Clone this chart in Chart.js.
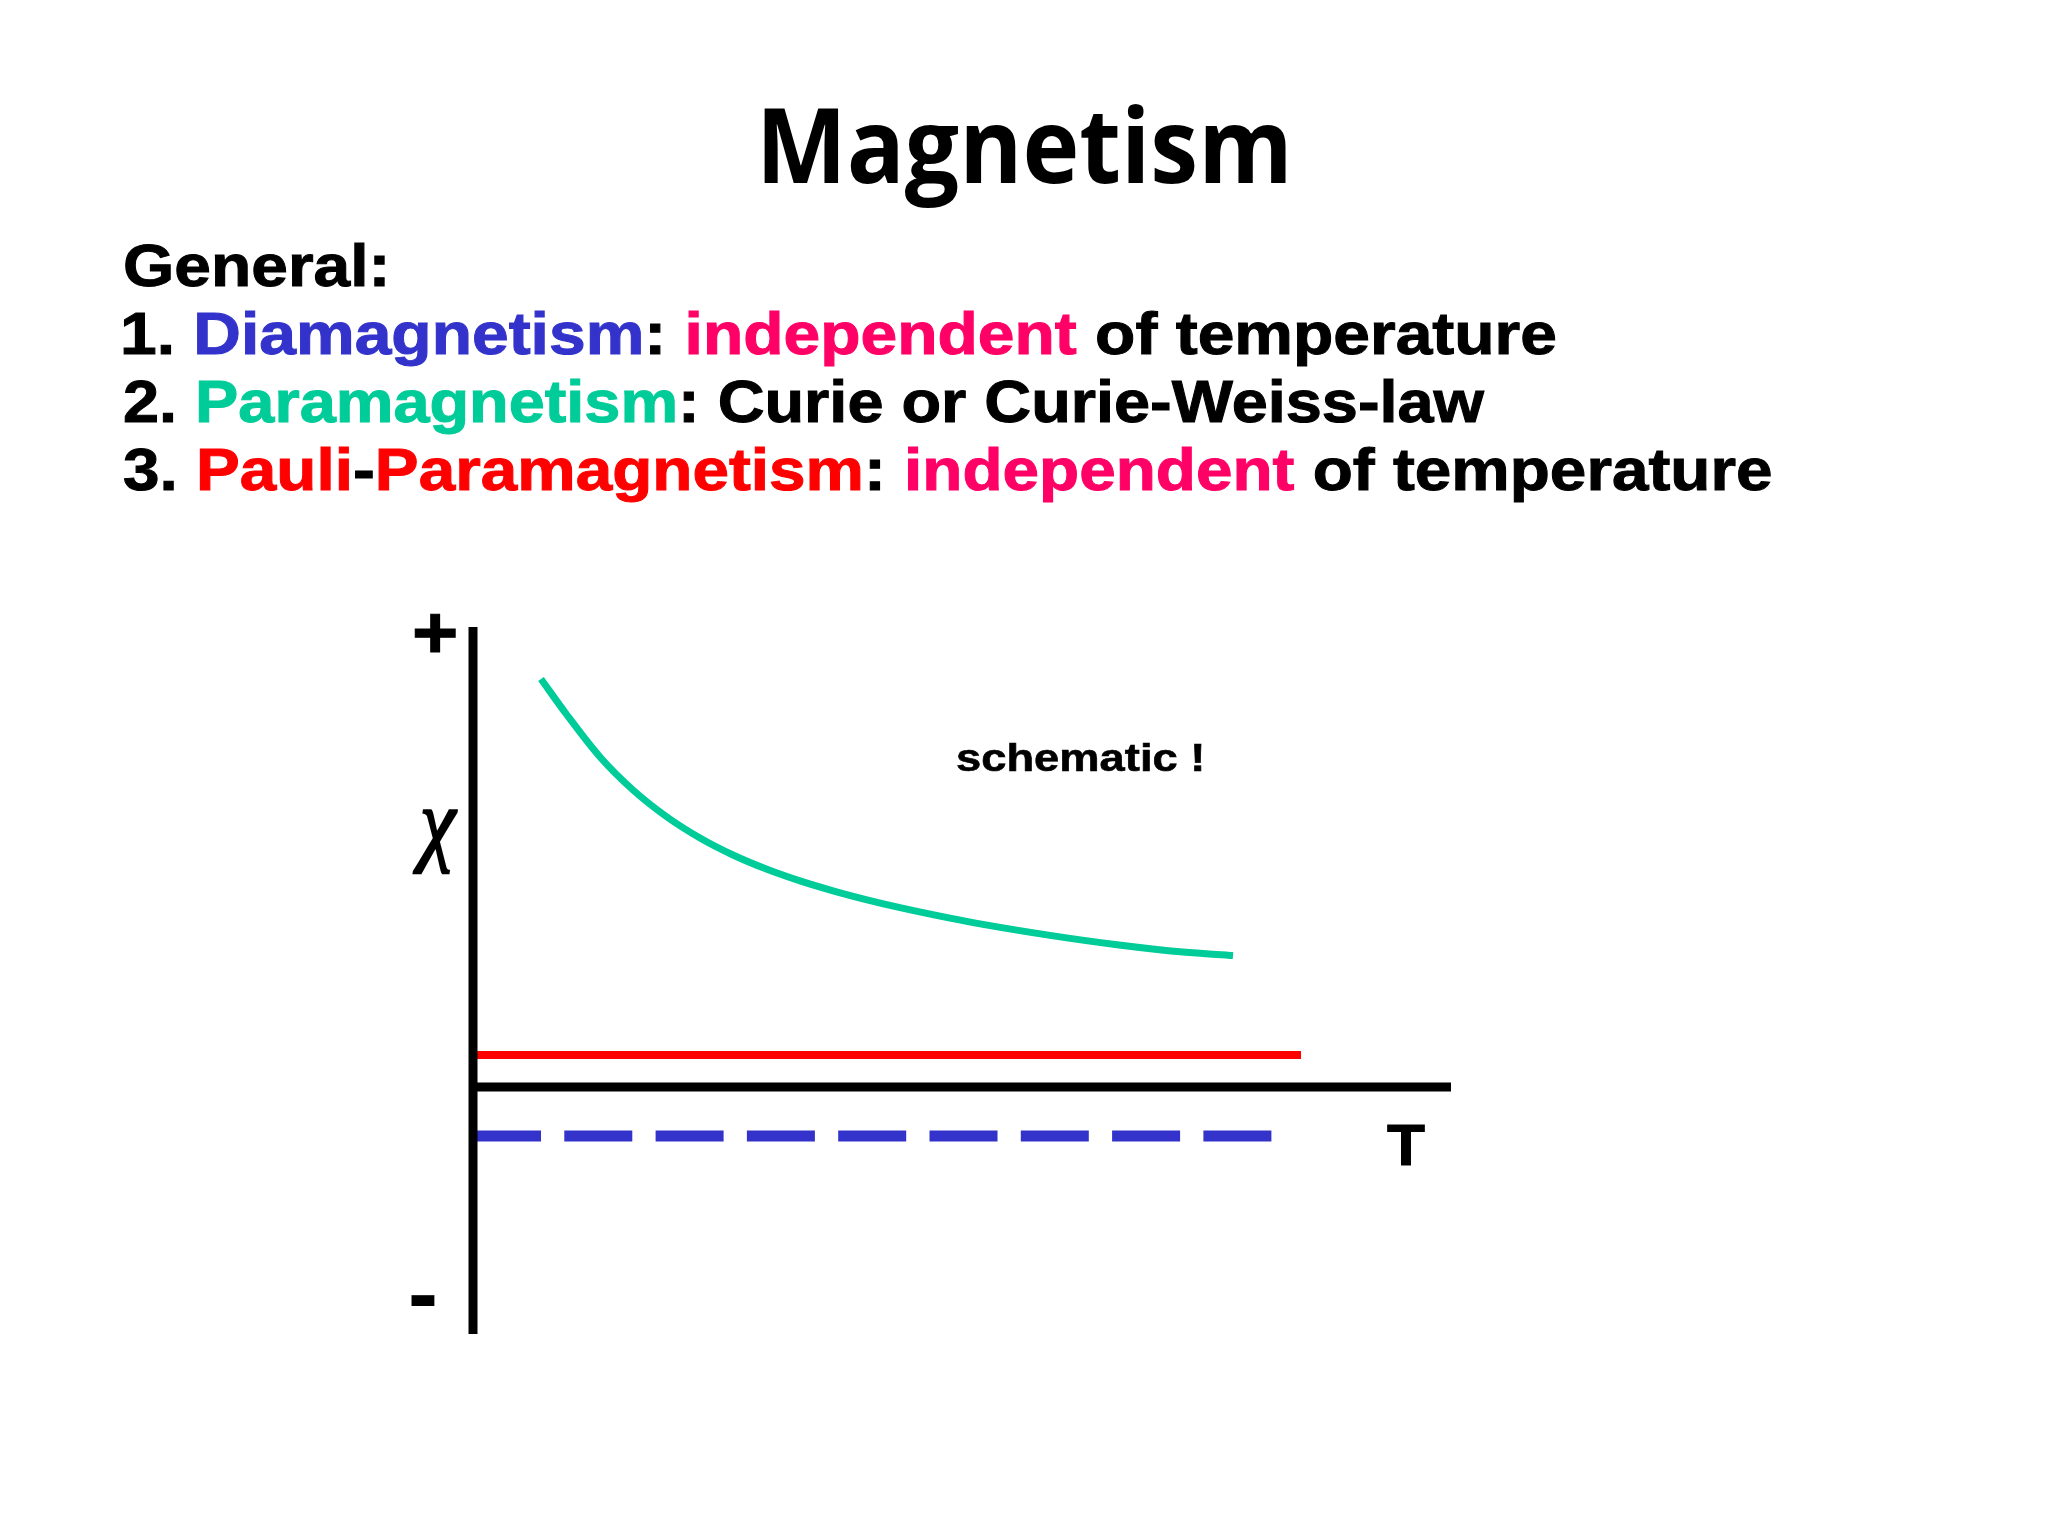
<!DOCTYPE html>
<html>
<head>
<meta charset="utf-8">
<script src="https://cdn.jsdelivr.net/npm/chart.js@4/dist/chart.umd.min.js"></script>
<style>
html,body{margin:0;padding:0;background:#ffffff;width:2048px;height:1536px;overflow:hidden}
#c{position:absolute;left:0;top:0}
.t{position:absolute;white-space:nowrap;transform-origin:0 0;margin:0;color:#000}
.heavy{-webkit-text-stroke:0.9px currentColor}
</style>
</head>
<body>
<canvas id="c" width="2048" height="1536"></canvas>
<div class="t" id="title">Magnetism</div>
<div class="t heavy" id="l0">General:</div>
<div class="t heavy" id="l1">1. <span style="color:#3333cc">Diamagnetism</span>: <span style="color:#ff0066">independent</span> of temperature</div>
<div class="t heavy" id="l2">2. <span style="color:#00cc99">Paramagnetism</span>: Curie or Curie-Weiss-law</div>
<div class="t heavy" id="l3">3. <span style="color:#ff0000">Pauli</span>-<span style="color:#ff0000">Paramagnetism</span>: <span style="color:#ff0066">independent</span> of temperature</div>
<div class="t heavy" id="plus">+</div>
<div class="t" id="chi" style="-webkit-text-stroke:2px #000">χ</div>
<div class="t" id="minus">-</div>
<div class="t heavy" id="tlab">T</div>
<div class="t heavy" id="schem" style="-webkit-text-stroke:0.6px #000">schematic !</div>
<script>
// ---- data (schematic, arbitrary units) ----
const paraT   = [0.68, 0.94, 1.27, 1.60, 1.94, 2.27, 2.60, 2.94, 3.27, 3.60, 3.94, 4.27, 4.77, 5.10, 5.77, 6.44, 7.10, 7.60];
const paraChi = [4.08, 3.72, 3.30, 2.97, 2.70, 2.49, 2.32, 2.177, 2.061, 1.962, 1.872, 1.794, 1.689, 1.626, 1.516, 1.422, 1.349, 1.314];
const pauliT   = [0, 8.28];
const pauliChi = [0.32, 0.32];
const diaT   = [0, 7.99];
const diaChi = [-0.49, -0.49];
const axisT   = [0, 9.78];   // extent of the T axis
const axisChi = [-2.47, 4.60]; // extent of the χ axis

const pts = (xs, ys) => xs.map((x, i) => ({x: x, y: ys[i]}));

new Chart(document.getElementById('c').getContext('2d'), {
  type: 'scatter',
  data: {
    datasets: [
      {label: 'T axis', data: pts(axisT, [0, 0]), borderColor: '#000000', borderWidth: 9},
      {label: 'χ axis', data: pts([0, 0], axisChi), borderColor: '#000000', borderWidth: 9},
      {label: 'Pauli-Paramagnetism', data: pts(pauliT, pauliChi), borderColor: '#ff0000', borderWidth: 8},
      {label: 'Diamagnetism', data: pts(diaT, diaChi), borderColor: '#3333cc', borderWidth: 11, borderDash: [68, 23.3]},
      {label: 'Paramagnetism', data: pts(paraT, paraChi), borderColor: '#00cc99', borderWidth: 7, cubicInterpolationMode: 'monotone'}
    ].map(d => Object.assign({showLine: true, pointRadius: 0, pointHoverRadius: 0, fill: false, borderCapStyle: 'butt'}, d))
  },
  options: {
    responsive: false,
    animation: false,
    devicePixelRatio: 1,
    events: [],
    layout: {padding: {left: 373, right: 475, top: 587, bottom: 149}},
    plugins: {legend: {display: false}, tooltip: {enabled: false}, title: {display: false}},
    scales: {
      x: {type: 'linear', display: false, min: -1, max: 11},
      y: {type: 'linear', display: false, min: -3, max: 5}
    }
  }
});

// ---- text placement: fit real HTML text to the reference ink boxes ----
const mctx = document.createElement('canvas').getContext('2d');
function place(id, weight, family, size, box) {
  const el = document.getElementById(id);
  const font = weight + ' ' + size + 'px ' + family;
  el.style.font = font;
  el.style.lineHeight = size + 'px';
  mctx.font = font;
  const text = el.textContent;
  const m = mctx.measureText(text);
  const inkW = m.actualBoundingBoxLeft + m.actualBoundingBoxRight;
  const sx = (box.right - box.left) / inkW;
  const A = m.fontBoundingBoxAscent, D = m.fontBoundingBoxDescent;
  const b = (size - (A + D)) / 2 + A;
  let sy, top;
  if (box.baseline !== undefined) {
    const capH = mctx.measureText('H').actualBoundingBoxAscent;
    sy = (box.baseline - box.capTop) / capH;
    top = box.baseline - sy * b;
  } else {
    const inkH = m.actualBoundingBoxAscent + m.actualBoundingBoxDescent;
    sy = (box.bottom - box.top) / inkH;
    top = box.top - sy * (b - m.actualBoundingBoxAscent);
  }
  const left = box.left + sx * m.actualBoundingBoxLeft;
  el.style.left = left + 'px';
  el.style.top = top + 'px';
  el.style.transform = 'scale(' + sx + ',' + sy + ')';
}
function layoutText() {
  const sans = '"Liberation Sans", Arial, sans-serif';
  place('title', 'bold', '"Open Sans", sans-serif', 100, {left: 764, right: 1286, capTop: 108, baseline: 183});
  place('l0', 'bold', sans, 54, {left: 125, right: 384, capTop: 245, baseline: 286});
  place('l1', 'bold', sans, 54, {left: 124, right: 1556, capTop: 313, baseline: 354});
  place('l2', 'bold', sans, 54, {left: 124, right: 1485, capTop: 381, baseline: 422});
  place('l3', 'bold', sans, 54, {left: 124, right: 1771, capTop: 449, baseline: 490});
  place('plus', 'bold', sans, 60, {left: 415, right: 456, top: 615, bottom: 653});
  place('chi', 'italic', '"Liberation Serif", serif', 80, {left: 413, right: 457, top: 810, bottom: 873});
  place('minus', 'bold', sans, 60, {left: 411, right: 435, top: 1295, bottom: 1307});
  place('tlab', 'bold', sans, 54, {left: 1387, right: 1425, top: 1126, bottom: 1165});
  place('schem', 'bold', sans, 38, {left: 957, right: 1202, capTop: 744, baseline: 771});
}
layoutText();
if (document.fonts && document.fonts.ready) document.fonts.ready.then(layoutText);
</script>
</body>
</html>
